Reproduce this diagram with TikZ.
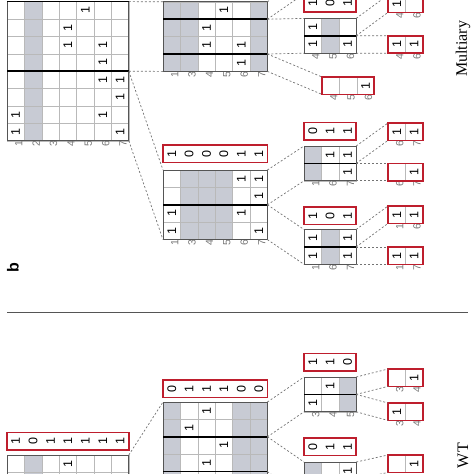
\documentclass[tikz,border=0pt]{standalone}
\usepackage{fontspec}
\setmainfont{Liberation Serif}
\setsansfont{Liberation Sans}
\usepackage{xcolor}
\usetikzlibrary{backgrounds}

\definecolor{cellshade}{RGB}{200,203,212}
\definecolor{gridgray}{RGB}{185,185,185}
\definecolor{framegray}{RGB}{85,85,85}
\definecolor{boxred}{RGB}{190,30,45}
\definecolor{conngray}{RGB}{115,115,115}
\definecolor{labgray}{RGB}{120,120,120}

\def\cellw{17.4}
% a block of square cells, named <name>-<row>-<col>
\newcommand{\cellgrid}[6][cell]{%
  \foreach \row in {1,...,#5}{%
    \foreach \col in {1,...,#6}{%
      \node[#1] (#2-\row-\col) at ({#3+(\col-0.5)*\cellw},{#4+(\row-0.5)*\cellw}) {};
    }
  }%
}
\newcommand{\shadecol}[3]{\fill[cellshade] (#1-1-#2.north west) rectangle (#1-#3-#2.south east);}

\begin{document}
\begin{tikzpicture}[x=1pt, y=-1pt]
  \tikzstyle{cell} = [draw=gridgray, line width=0.6pt, minimum size=\cellw pt, inner sep=0pt, outer sep=0pt]
  \tikzstyle{vcell} = [minimum size=\cellw pt, inner sep=0pt, outer sep=0pt]
  \tikzstyle{bit} = [rotate=90, inner sep=0pt, font=\sffamily\fontsize{12.5}{13}\selectfont]
  \tikzstyle{lab} = [rotate=90, anchor=east, inner sep=0pt, yshift=-3pt, text=labgray, font=\sffamily\fontsize{10.5}{11}\selectfont]
  \tikzstyle{frame} = [draw=framegray, line width=0.9pt]
  \tikzstyle{sep} = [draw=black, line width=1.5pt]
  \tikzstyle{redbox} = [draw=boxred, line width=1.5pt]
  \tikzstyle{conn} = [draw=conngray, dash pattern=on 2pt off 2pt, line width=0.7pt]

  \useasboundingbox (0,0) rectangle (474,474);
  \clip (0,0) rectangle (474,474);

  %% ---------- b: Multiary ----------
  \cellgrid{B0}{7}{1.6}{8}{7}
  \foreach \r/\c in {1/5,2/4,3/4,3/6,4/6,5/6,5/7,6/7,7/1,7/6,8/1,8/7}
    \node[bit] (B0-b\r-\c) at (B0-\r-\c) {1};
  \foreach \c in {1,...,7}
    \node[lab] (B0-l\c) at (B0-8-\c.south) {\c};
  \draw[frame] (B0-1-1.north west) rectangle (B0-8-7.south east);
  \draw[sep] (B0-1-1.north west) -- (B0-1-7.north east);
  \draw[sep] (B0-4-1.south west) -- (B0-4-7.south east);

  \cellgrid{B1}{163}{1.8}{4}{6}
  \foreach \r/\c in {1/4,2/3,3/3,3/5,4/5}
    \node[bit] (B1-b\r-\c) at (B1-\r-\c) {1};
  \foreach \c/\txt in {1/1,2/3,3/4,4/5,5/6,6/7}
    \node[lab] (B1-l\c) at (B1-4-\c.south) {\txt};
  \draw[frame] (B1-1-1.north west) rectangle (B1-4-6.south east);
  \draw[sep] (B1-1-1.south west) -- (B1-1-6.south east);
  \draw[sep] (B1-3-1.south west) -- (B1-3-6.south east);

  \cellgrid[vcell]{RB2}{163}{145}{1}{6}
  \foreach \c/\v in {1/1,2/0,3/0,4/0,5/1,6/1}
    \node[bit] (RB2-b\c) at (RB2-1-\c) {\v};
  \draw[redbox] (RB2-1-1.north west) rectangle (RB2-1-6.south east);

  \cellgrid{B2}{163}{170}{4}{6}
  \foreach \r/\c in {1/5,1/6,2/6,3/1,3/5,4/1,4/6}
    \node[bit] (B2-b\r-\c) at (B2-\r-\c) {1};
  \foreach \c/\txt in {1/1,2/3,3/4,4/5,5/6,6/7}
    \node[lab] (B2-l\c) at (B2-4-\c.south) {\txt};
  \draw[frame] (B2-1-1.north west) rectangle (B2-4-6.south east);
  \draw[sep] (B2-2-1.south west) -- (B2-2-6.south east);

  \cellgrid[vcell]{RC1}{304}{-5.4}{1}{3}
  \foreach \c/\v in {1/1,2/0,3/1}
    \node[bit] (RC1-b\c) at (RC1-1-\c) {\v};
  \draw[redbox] (RC1-1-1.north west) rectangle (RC1-1-3.south east);

  \cellgrid{C1}{304}{18.4}{2}{3}
  \foreach \r/\c in {1/1,2/1,2/3}
    \node[bit] (C1-b\r-\c) at (C1-\r-\c) {1};
  \foreach \c/\txt in {1/4,2/5,3/6}
    \node[lab] (C1-l\c) at (C1-2-\c.south) {\txt};
  \draw[frame] (C1-1-1.north west) rectangle (C1-2-3.south east);
  \draw[sep] (C1-1-1.south west) -- (C1-1-3.south east);

  \cellgrid{L1}{388}{-5}{1}{2}
  \node[bit] (L1-b1) at (L1-1-1) {1};
  \foreach \c/\txt in {1/4,2/6}
    \node[lab] (L1-l\c) at (L1-1-\c.south) {\txt};
  \draw[redbox] (L1-1-1.north west) rectangle (L1-1-2.south east);

  \cellgrid{L2}{388}{35.8}{1}{2}
  \foreach \c in {1,2}
    \node[bit] (L2-b\c) at (L2-1-\c) {1};
  \foreach \c/\txt in {1/4,2/6}
    \node[lab] (L2-l\c) at (L2-1-\c.south) {\txt};
  \draw[redbox] (L2-1-1.north west) rectangle (L2-1-2.south east);

  \cellgrid{L3}{322}{77}{1}{3}
  \node[bit] (L3-b3) at (L3-1-3) {1};
  \foreach \c/\txt in {1/4,2/5,3/6}
    \node[lab] (L3-l\c) at (L3-1-\c.south) {\txt};
  \draw[redbox] (L3-1-1.north west) rectangle (L3-1-3.south east);

  \cellgrid[vcell]{RC2}{304}{122.5}{1}{3}
  \foreach \c/\v in {1/0,2/1,3/1}
    \node[bit] (RC2-b\c) at (RC2-1-\c) {\v};
  \draw[redbox] (RC2-1-1.north west) rectangle (RC2-1-3.south east);

  \cellgrid{C2}{304}{146}{2}{3}
  \foreach \r/\c in {1/2,1/3,2/3}
    \node[bit] (C2-b\r-\c) at (C2-\r-\c) {1};
  \foreach \c/\txt in {1/1,2/6,3/7}
    \node[lab] (C2-l\c) at (C2-2-\c.south) {\txt};
  \draw[frame] (C2-1-1.north west) rectangle (C2-2-3.south east);
  \draw[sep] (C2-1-1.south west) -- (C2-1-3.south east);

  \cellgrid{L4}{388}{123}{1}{2}
  \foreach \c in {1,2}
    \node[bit] (L4-b\c) at (L4-1-\c) {1};
  \foreach \c/\txt in {1/6,2/7}
    \node[lab] (L4-l\c) at (L4-1-\c.south) {\txt};
  \draw[redbox] (L4-1-1.north west) rectangle (L4-1-2.south east);

  \cellgrid{L5}{388}{163.4}{1}{2}
  \node[bit] (L5-b2) at (L5-1-2) {1};
  \foreach \c/\txt in {1/6,2/7}
    \node[lab] (L5-l\c) at (L5-1-\c.south) {\txt};
  \draw[redbox] (L5-1-1.north west) rectangle (L5-1-2.south east);

  \cellgrid[vcell]{RC3}{304}{207}{1}{3}
  \foreach \c/\v in {1/1,2/0,3/1}
    \node[bit] (RC3-b\c) at (RC3-1-\c) {\v};
  \draw[redbox] (RC3-1-1.north west) rectangle (RC3-1-3.south east);

  \cellgrid{C3}{304}{229.5}{2}{3}
  \foreach \r/\c in {1/1,1/3,2/1,2/3}
    \node[bit] (C3-b\r-\c) at (C3-\r-\c) {1};
  \foreach \c/\txt in {1/1,2/6,3/7}
    \node[lab] (C3-l\c) at (C3-2-\c.south) {\txt};
  \draw[frame] (C3-1-1.north west) rectangle (C3-2-3.south east);
  \draw[sep] (C3-1-1.south west) -- (C3-1-3.south east);

  \cellgrid{L6}{388}{206}{1}{2}
  \foreach \c in {1,2}
    \node[bit] (L6-b\c) at (L6-1-\c) {1};
  \foreach \c/\txt in {1/1,2/6}
    \node[lab] (L6-l\c) at (L6-1-\c.south) {\txt};
  \draw[redbox] (L6-1-1.north west) rectangle (L6-1-2.south east);

  \cellgrid{L7}{388}{246.9}{1}{2}
  \foreach \c in {1,2}
    \node[bit] (L7-b\c) at (L7-1-\c) {1};
  \foreach \c/\txt in {1/1,2/7}
    \node[lab] (L7-l\c) at (L7-1-\c.south) {\txt};
  \draw[redbox] (L7-1-1.north west) rectangle (L7-1-2.south east);

  %% ---------- a ----------
  \cellgrid[vcell]{RA0}{7}{432.5}{1}{7}
  \foreach \c/\v in {1/1,2/0,3/1,4/1,5/1,6/1,7/1}
    \node[bit] (RA0-b\c) at (RA0-1-\c) {\v};
  \draw[redbox] (RA0-1-1.north west) rectangle (RA0-1-7.south east);

  \cellgrid{A0}{7}{455}{2}{7}
  \node[bit] (A0-b1-4) at (A0-1-4) {1};
  \draw[frame] (A0-1-1.north west) rectangle (A0-2-7.south east);

  \cellgrid[vcell]{RA1}{163}{380}{1}{6}
  \foreach \c/\v in {1/0,2/1,3/1,4/1,5/0,6/0}
    \node[bit] (RA1-b\c) at (RA1-1-\c) {\v};
  \draw[redbox] (RA1-1-1.north west) rectangle (RA1-1-6.south east);

  \cellgrid{A1}{163}{402}{5}{6}
  \foreach \r/\c in {1/3,2/2,3/4,4/3}
    \node[bit] (A1-b\r-\c) at (A1-\r-\c) {1};
  \draw[frame] (A1-1-1.north west) rectangle (A1-5-6.south east);
  \draw[sep] (A1-2-1.south west) -- (A1-2-6.south east);
  \draw[sep] (A1-4-1.south west) -- (A1-4-6.south east);

  \cellgrid[vcell]{RC4}{304}{353.5}{1}{3}
  \foreach \c/\v in {1/1,2/1,3/0}
    \node[bit] (RC4-b\c) at (RC4-1-\c) {\v};
  \draw[redbox] (RC4-1-1.north west) rectangle (RC4-1-3.south east);

  \cellgrid{C4}{304}{377}{2}{3}
  \foreach \r/\c in {1/2,2/1}
    \node[bit] (C4-b\r-\c) at (C4-\r-\c) {1};
  \foreach \c/\txt in {1/3,2/4,3/5}
    \node[lab] (C4-l\c) at (C4-2-\c.south) {\txt};
  \draw[frame] (C4-1-1.north west) rectangle (C4-2-3.south east);
  \draw[sep] (C4-1-1.south west) -- (C4-1-3.south east);

  \cellgrid{L8}{388}{369}{1}{2}
  \node[bit] (L8-b2) at (L8-1-2) {1};
  \foreach \c/\txt in {1/3,2/4}
    \node[lab] (L8-l\c) at (L8-1-\c.south) {\txt};
  \draw[redbox] (L8-1-1.north west) rectangle (L8-1-2.south east);

  \cellgrid{L9}{388}{403}{1}{2}
  \node[bit] (L9-b1) at (L9-1-1) {1};
  \foreach \c/\txt in {1/3,2/4}
    \node[lab] (L9-l\c) at (L9-1-\c.south) {\txt};
  \draw[redbox] (L9-1-1.north west) rectangle (L9-1-2.south east);

  \cellgrid[vcell]{RC5}{304}{438}{1}{3}
  \foreach \c/\v in {1/0,2/1,3/1}
    \node[bit] (RC5-b\c) at (RC5-1-\c) {\v};
  \draw[redbox] (RC5-1-1.north west) rectangle (RC5-1-3.south east);

  \cellgrid{C5}{304}{462}{2}{3}
  \node[bit] (C5-b1-3) at (C5-1-3) {1};
  \draw[frame] (C5-1-1.north west) rectangle (C5-2-3.south east);
  \draw[sep] (C5-1-1.south west) -- (C5-1-3.south east);

  \cellgrid{L10}{388}{455}{1}{2}
  \node[bit] (L10-b2) at (L10-1-2) {1};
  \draw[redbox] (L10-1-1.north west) rectangle (L10-1-2.south east);

  % shaded columns
  \begin{scope}[on background layer]
    \shadecol{B0}{2}{8}
    \foreach \c in {1,2,6} {\shadecol{B1}{\c}{4}}
    \foreach \c in {2,3,4} {\shadecol{B2}{\c}{4}}
    \shadecol{C1}{2}{2}
    \shadecol{C2}{1}{2}
    \shadecol{C3}{2}{2}
    \shadecol{A0}{2}{2}
    \foreach \c in {1,5,6} {\shadecol{A1}{\c}{5}}
    \shadecol{C4}{3}{2}
    \shadecol{C5}{1}{2}
  \end{scope}

  % connectors
  \coordinate (B1top-a) at (322,-36);
  \coordinate (B1top-b) at (322,-18.6);
  \draw[conn] (B0-1-7.north east) -- (B1-1-1.north west);
  \draw[conn] (B0-4-7.south east) -- (B1-4-1.south west);
  \draw[conn] (B0-4-7.south east) -- (B2-1-1.north west);
  \draw[conn] (B0-8-7.south east) -- (B2-4-1.south west);
  \draw[conn] (B1-1-6.north east) -- (B1top-a);
  \draw[conn] (B1-1-6.south east) -- (B1top-b);
  \draw[conn] (B1-2-6.north east) -- (C1-1-1.north west);
  \draw[conn] (B1-3-6.south east) -- (C1-2-1.south west);
  \draw[conn] (B1-4-6.north east) -- (L3-1-1.north west);
  \draw[conn] (B1-4-6.south east) -- (L3-1-1.south west);
  \draw[conn] (C1-1-3.north east) -- (L1-1-1.north west);
  \draw[conn] (C1-1-3.south east) -- (L1-1-1.south west);
  \draw[conn] (C1-2-3.north east) -- (L2-1-1.north west);
  \draw[conn] (C1-2-3.south east) -- (L2-1-1.south west);
  \draw[conn] (B2-1-6.north east) -- (C2-1-1.north west);
  \draw[conn] (B2-2-6.south east) -- (C2-2-1.south west);
  \draw[conn] (B2-3-6.north east) -- (C3-1-1.north west);
  \draw[conn] (B2-4-6.south east) -- (C3-2-1.south west);
  \draw[conn] (C2-1-3.north east) -- (L4-1-1.north west);
  \draw[conn] (C2-1-3.south east) -- (L4-1-1.south west);
  \draw[conn] (C2-2-3.north east) -- (L5-1-1.north west);
  \draw[conn] (C2-2-3.south east) -- (L5-1-1.south west);
  \draw[conn] (C3-1-3.north east) -- (L6-1-1.north west);
  \draw[conn] (C3-1-3.south east) -- (L6-1-1.south west);
  \draw[conn] (C3-2-3.north east) -- (L7-1-1.north west);
  \draw[conn] (C3-2-3.south east) -- (L7-1-1.south west);
  \draw[conn] (A0-1-7.north east) -- (A1-1-1.north west);
  \draw[conn] (A1-1-6.north east) -- (C4-1-1.north west);
  \draw[conn] (A1-2-6.south east) -- (C4-2-1.south west);
  \draw[conn] (A1-3-6.north east) -- (C5-1-1.north west);
  \draw[conn] (A1-4-6.south east) -- (C5-2-1.south west);
  \draw[conn] (C4-1-3.north east) -- (L8-1-1.north west);
  \draw[conn] (C4-1-3.south east) -- (L8-1-1.south west);
  \draw[conn] (C4-2-3.north east) -- (L9-1-1.north west);
  \draw[conn] (C4-2-3.south east) -- (L9-1-1.south west);
  \draw[conn] (C5-1-3.north east) -- (L10-1-1.north west);
  \draw[conn] (C5-1-3.south east) -- (L10-1-1.south west);

  % panel divider and titles
  \coordinate (div-l) at (7,312);
  \coordinate (div-r) at (468,312);
  \draw[draw=framegray, line width=0.9pt] (div-l) -- (div-r);
  \node[rotate=90, inner sep=0pt, font=\sffamily\bfseries\fontsize{16}{16}\selectfont] (panel-b) at (13,268) {b};
  \node[rotate=90, anchor=west, inner sep=0pt, font=\fontsize{16}{16}\selectfont] (title-b) at (463,77) {Multiary};
  \node[rotate=90, anchor=east, inner sep=0pt, font=\fontsize{16}{16}\selectfont] (title-a) at (463,443) {WT};
\end{tikzpicture}
\end{document}
